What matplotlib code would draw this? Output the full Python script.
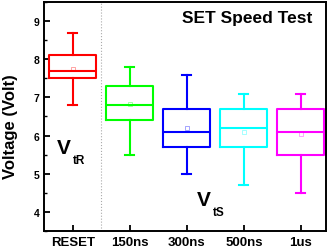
import matplotlib
matplotlib.use("Agg", force=True)
import matplotlib.pyplot as plt
from matplotlib.ticker import MultipleLocator

plt.rcParams["font.family"] = ["Liberation Sans", "DejaVu Sans"]
plt.rcParams["font.weight"] = "bold"

# box statistics
labels = ["RESET", "150ns", "300ns", "500ns", "1us"]
whislo = [6.8, 5.5, 5.0, 4.7, 4.5]
q1 = [7.5, 6.4, 5.7, 5.7, 5.5]
med = [7.7, 6.8, 6.1, 6.2, 6.1]
q3 = [8.1, 7.3, 6.7, 6.7, 6.7]
whishi = [8.7, 7.8, 7.6, 7.1, 7.1]
mean = [7.75, 6.82, 6.2, 6.1, 6.05]
colors = ["#ff0000", "#00ff00", "#0000ff", "#00ffff", "#ff00ff"]

fig = plt.figure(figsize=(3.35, 2.51), dpi=100)
ax = fig.add_axes([0.13, 0.076, 0.843, 0.912])

positions = list(range(1, len(labels) + 1))
for i, pos in enumerate(positions):
    stats = [{"whislo": whislo[i], "q1": q1[i], "med": med[i], "q3": q3[i],
              "whishi": whishi[i], "mean": mean[i], "fliers": []}]
    c = colors[i]
    ax.bxp(stats, positions=[pos], widths=0.82, showmeans=True,
           boxprops=dict(color=c, linewidth=1.5),
           medianprops=dict(color=c, linewidth=1.5),
           whiskerprops=dict(color=c, linewidth=1.5),
           capprops=dict(color=c, linewidth=1.5),
           capwidths=0.16,
           meanprops=dict(marker="s", markersize=2.5, markerfacecolor="none",
                          markeredgecolor=c, markeredgewidth=0.5, alpha=0.5))

ax.axvline(1.5, color="#aaaaaa", linestyle=":", linewidth=0.8)

ax.set_xlim(0.49, 5.44)
ax.set_ylim(3.5, 9.5)
ax.set_xticks(positions, labels)
ax.yaxis.set_major_locator(MultipleLocator(1))
ax.yaxis.set_minor_locator(MultipleLocator(0.5))
ax.tick_params(axis="both", which="both", direction="in", top=False, right=False)
ax.tick_params(axis="x", which="major", length=4, width=1.3, labelsize=9.5, pad=4)
ax.tick_params(axis="y", which="major", length=4, width=1.3, labelsize=7.5, pad=3)
ax.tick_params(axis="y", which="minor", length=2.5, width=1.0)
for s in ax.spines.values():
    s.set_linewidth(1.4)

ax.set_ylabel("Voltage (Volt)", fontsize=12, fontweight="bold")
ax.yaxis.set_label_coords(-0.09, 0.46)

ax.text(0.72, 0.934, "SET Speed Test", transform=ax.transAxes, ha="center",
        va="center", fontsize=12.5, fontweight="bold")
ax.text(0.725, 5.53, "V", fontsize=15, fontweight="bold", ha="left", va="baseline")
ax.text(1.005, 5.29, "tR", fontsize=8.5, fontweight="bold", ha="left", va="baseline")
ax.text(3.18, 4.17, "V", fontsize=15, fontweight="bold", ha="left", va="baseline")
ax.text(3.46, 3.91, "tS", fontsize=8.5, fontweight="bold", ha="left", va="baseline")

fig.savefig("out.png", dpi=100)
